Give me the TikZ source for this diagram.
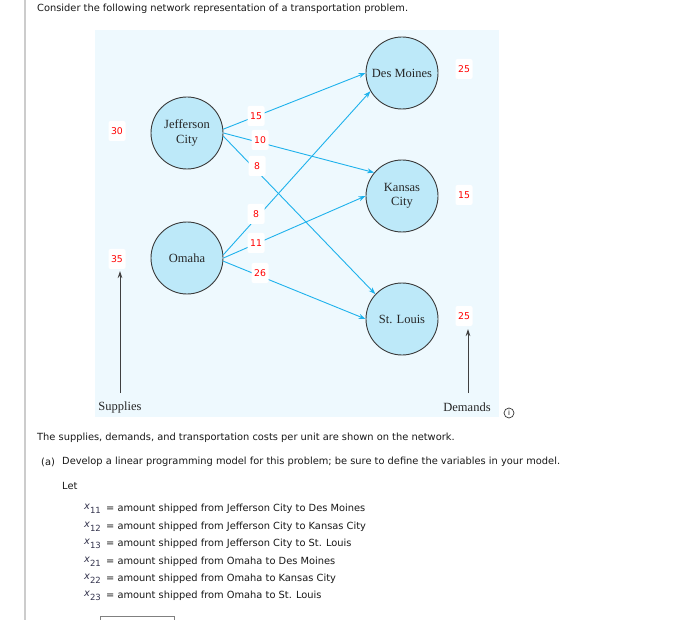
\documentclass[tikz,border=0pt]{standalone}
\usepackage{fontspec}
\setmainfont{Liberation Serif}
\newfontfamily\uifont{DejaVu Sans}
\usetikzlibrary{arrows.meta}

\definecolor{bgblue}{HTML}{EEF9FE}
\definecolor{cityfill}{HTML}{BDE9F9}
\definecolor{edgeblue}{HTML}{1EB2EC}
\definecolor{cityline}{HTML}{3A3A3A}
\definecolor{sidebar}{HTML}{CCCCCC}
\definecolor{varcol}{HTML}{33334D}

\begin{document}
\begin{tikzpicture}[x=1pt,y=-1pt,
  city/.style={circle, draw=cityline, line width=0.9pt, fill=cityfill, minimum size=72pt, inner sep=0pt, align=center, font=\fontsize{12.5}{14.5}\selectfont, text=black!85},
  flow/.style={draw=edgeblue, line width=0.9pt, -{Stealth[length=7pt,width=5pt]}},
  costlbl/.style={fill=white, rounded corners=2pt, text=red, minimum width=17pt, minimum height=20pt, inner sep=1pt, font=\uifont\fontsize{9.3}{10}\selectfont},
  axisarrow/.style={draw=black!75, line width=0.8pt, -{Stealth[length=7pt,width=4.5pt]}},
  axislbl/.style={inner sep=0pt, font=\fontsize{12.5}{14}\selectfont, text=black!85},
  ui/.style={anchor=west, inner sep=0pt, font=\uifont\fontsize{9.85}{11}\selectfont, text=black!90},
  vname/.style={anchor=west, inner sep=0pt, font=\uifont\fontsize{9.85}{11}\selectfont, text=varcol}
]
\useasboundingbox (0,0) rectangle (693,620);
\fill[white] (0,0) rectangle (693,620);
\draw[sidebar, line width=1.5pt] (25,0) -- (25,620);

% diagram background
\fill[bgblue] (95,30) rectangle (499,417);

% cities
\node[city] (jc) at (187,133) {Jefferson\\City};
\node[city] (om) at (187,258) {Omaha};
\node[city] (dm) at (402,73) {Des Moines};
\node[city] (kc) at (402,196) {Kansas\\City};
\node[city] (sl) at (402,319) {St. Louis};

% flows
\draw[flow] (jc.6) -- (dm.west);
\draw[flow] (jc.0) -- (kc.140);
\draw[flow] (jc.-5) -- (sl.137);
\draw[flow] (om.5) -- (dm.210);
\draw[flow] (om.0) -- (kc.west);
\draw[flow] (om.-5) -- (sl.west);

% costs
\node[costlbl] (c11) at (256,116) {15};
\node[costlbl] (c12) at (260,140) {10};
\node[costlbl] (c13) at (257,166) {8};
\node[costlbl] (c21) at (256,214) {8};
\node[costlbl] (c22) at (256,243) {11};
\node[costlbl] (c23) at (260,273) {26};

% supplies and demands
\node[costlbl] (s1) at (117,131) {30};
\node[costlbl] (s2) at (117,259) {35};
\node[costlbl] (d1) at (464,69) {25};
\node[costlbl] (d2) at (464,195) {15};
\node[costlbl] (d3) at (464,316) {25};

\coordinate (sbot) at (120,393);
\coordinate (stop) at (120,271);
\coordinate (dbot) at (468,393);
\coordinate (dtop) at (468,329);
\draw[axisarrow] (sbot) -- (stop);
\draw[axisarrow] (dbot) -- (dtop);
\node[axislbl] (suplbl) at (120,407) {Supplies};
\node[axislbl] (demlbl) at (467,407) {Demands};

% info icon
\node[circle, draw=black!80, line width=0.7pt, minimum size=10pt, inner sep=0pt, font=\uifont\fontsize{7}{7}\selectfont] (info) at (509,413) {i};

% texts
\node[ui] (t0) at (37,9) {Consider the following network representation of a transportation problem.};
\node[ui] (t1) at (37,438) {The supplies, demands, and transportation costs per unit are shown on the network.};
\node[ui] (t2a) at (41,462) {(a)};
\node[ui] (t2) at (62,462) {Develop a linear programming model for this problem; be sure to define the variables in your model.};
\node[ui] (t3) at (62,486) {Let};

\foreach \i/\y/\txt in {11/509/Jefferson City to Des Moines, 12/527/Jefferson City to Kansas City, 13/544/Jefferson City to St. Louis, 21/562/Omaha to Des Moines, 22/579/Omaha to Kansas City, 23/596/Omaha to St. Louis}{
  \node[vname] (v\i) at (84,\y) {\itshape x\raisebox{-0.75ex}{\upshape\fontsize{8.5}{9}\selectfont\i}};
  \node[ui] (e\i) at (106,\y) {= amount shipped from \txt};
}

% answer box (partially visible)
\draw[black!50, line width=0.8pt] (100,621) -- (100,616) -- (174,616) -- (174,621);
\end{tikzpicture}
\end{document}
